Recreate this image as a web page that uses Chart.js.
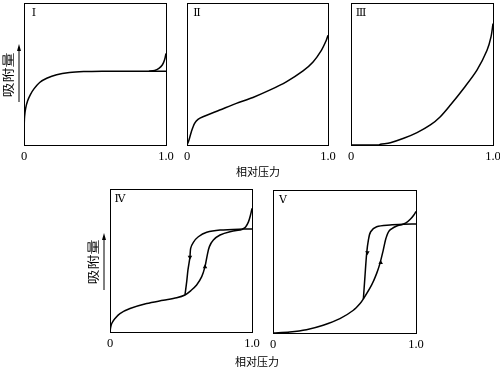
<!DOCTYPE html>
<html><head><meta charset="utf-8">
<script src="https://cdn.jsdelivr.net/npm/chart.js@4.4.1/dist/chart.umd.min.js"></script>
<style>
html,body{margin:0;padding:0;background:#fff}
body{width:500px;height:368px;position:relative;overflow:hidden}
canvas{position:absolute}
.t{position:absolute;color:#000;white-space:nowrap;z-index:5;line-height:1}
.cn{font-family:"Noto Sans CJK SC","Noto Sans",sans-serif;font-size:11px}
.cy{font-family:"Noto Sans CJK SC","Noto Sans",sans-serif;font-size:12px}
.rn{font-family:"DejaVu Serif","Liberation Serif",serif;font-size:11px}
svg{position:absolute;left:0;top:0;z-index:4}
</style></head><body>
<svg width="500" height="368">
  <line x1="19" y1="102" x2="19" y2="50" stroke="#000" stroke-width="1"/>
  <polygon points="19,44 17,51 21,51" fill="#000"/>
  <line x1="104" y1="290" x2="104" y2="240" stroke="#000" stroke-width="1"/>
  <polygon points="104,233 102,240 106,240" fill="#000"/>
</svg>
<script>
// ---- text ----
const tickLabels = ['0', '1.0'];
const panelNames = ['Ⅰ', 'Ⅱ', 'Ⅲ', 'Ⅳ', 'Ⅴ'];
const xTitle = '相对压力';
const yTitle = '吸附量';

// ---- Type I ----
const typeIX = [0, 0.001, 0.004, 0.012, 0.025, 0.045, 0.07, 0.11, 0.16, 0.23, 0.32, 0.42, 0.55, 0.7, 0.85, 1.0];
const typeIY = [0, 0.12, 0.2, 0.26, 0.31, 0.355, 0.395, 0.44, 0.47, 0.495, 0.51, 0.517, 0.52, 0.52, 0.519, 0.519];
const typeIBranchX = [0.88, 0.92, 0.95, 0.975, 0.99, 1.0];
const typeIBranchY = [0.519, 0.525, 0.54, 0.565, 0.6, 0.645];

// ---- Type II ----
const typeIIX = [0, 0.014, 0.031, 0.054, 0.078, 0.113, 0.232, 0.35, 0.468, 0.586, 0.704, 0.823, 0.894, 0.953, 0.988, 1.0];
const typeIIY = [0, 0.035, 0.094, 0.152, 0.18, 0.199, 0.246, 0.293, 0.335, 0.386, 0.445, 0.522, 0.585, 0.667, 0.738, 0.773];

// ---- Type III ----
const typeIIIX = [0, 0.195, 0.207, 0.277, 0.371, 0.465, 0.559, 0.629, 0.7, 0.793, 0.887, 0.958, 0.986, 1.0];
const typeIIIY = [0, 0, 0.005, 0.016, 0.047, 0.087, 0.141, 0.199, 0.281, 0.398, 0.527, 0.667, 0.761, 0.855];

// ---- Type IV ----
const typeIVAdsX = [0, 0.005, 0.014, 0.035, 0.07, 0.141, 0.258, 0.375, 0.47, 0.528, 0.57, 0.61, 0.646, 0.669, 0.685, 0.70, 0.728, 0.775, 0.845, 0.927];
const typeIVAdsY = [0, 0.035, 0.063, 0.094, 0.129, 0.164, 0.199, 0.222, 0.24, 0.259, 0.29, 0.329, 0.387, 0.457, 0.538, 0.597, 0.643, 0.678, 0.701, 0.715];
const typeIVDesX = [1.0, 0.937, 0.775, 0.681, 0.622, 0.587, 0.568, 0.563, 0.549, 0.54, 0.528];
const typeIVDesY = [0.72, 0.72, 0.713, 0.697, 0.666, 0.627, 0.585, 0.524, 0.434, 0.35, 0.259];
const typeIVBranchX = [0.927, 0.955, 0.975, 0.99, 1.0];
const typeIVBranchY = [0.715, 0.735, 0.77, 0.82, 0.865];
const typeIVArrowX = [0.669, 0.563];
const typeIVArrowY = [0.455, 0.524];

// ---- Type V ----
const typeVAdsX = [0, 0.117, 0.234, 0.351, 0.468, 0.562, 0.609, 0.632, 0.69, 0.725, 0.748, 0.771, 0.79, 0.813, 0.865, 0.9];
const typeVAdsY = [0, 0.007, 0.023, 0.054, 0.1, 0.159, 0.206, 0.238, 0.336, 0.417, 0.487, 0.58, 0.662, 0.715, 0.748, 0.757];
const typeVDesX = [1.0, 0.911, 0.818, 0.725, 0.683, 0.667, 0.655, 0.643, 0.632];
const typeVDesY = [0.762, 0.76, 0.755, 0.743, 0.708, 0.65, 0.557, 0.394, 0.238];
const typeVBranchX = [0.9, 0.93, 0.96, 0.985, 1.0];
const typeVBranchY = [0.757, 0.77, 0.795, 0.825, 0.85];
const typeVArrowX = [0.753, 0.66];
const typeVArrowY = [0.492, 0.562];

const arrowRotation = [0, 180]; // up on adsorption, down on desorption

function pts(xs, ys) { return xs.map((x, i) => ({ x: x, y: ys[i] })); }
function curve(xs, ys) {
  return { data: pts(xs, ys), showLine: true, borderColor: '#000', borderWidth: 1.5,
           pointRadius: 0, tension: 0.3, fill: false };
}
function arrows(xs, ys) {
  return { data: pts(xs, ys), showLine: false, pointStyle: 'triangle', pointRadius: 2.6,
           pointRotation: arrowRotation, backgroundColor: '#000', borderColor: '#000', borderWidth: 0 };
}

function addText(txt, cls, cx, cy, extra) {
  const d = document.createElement('div');
  d.className = 't ' + cls;
  d.textContent = txt;
  d.style.left = cx + 'px';
  d.style.top = cy + 'px';
  d.style.transform = 'translate(-50%,-50%)' + (extra || '');
  document.body.appendChild(d);
}

function makeChart(box, datasets, name) {
  const padL = 16, padR = 16, padT = 4, axisH = 22;
  const cv = document.createElement('canvas');
  cv.width = box.w + padL + padR;
  cv.height = box.h + padT + axisH;
  cv.style.left = (box.l - padL) + 'px';
  cv.style.top = (box.t - padT) + 'px';
  cv.style.width = cv.width + 'px';
  cv.style.height = cv.height + 'px';
  document.body.appendChild(cv);
  new Chart(cv, {
    type: 'scatter',
    data: { datasets: datasets },
    options: {
      responsive: false, animation: false, devicePixelRatio: 1,
      layout: { padding: { left: padL, right: padR, top: padT, bottom: 0 } },
      plugins: { legend: { display: false }, tooltip: { enabled: false }, title: { display: false } },
      scales: {
        x: {
          type: 'linear', min: 0, max: 1,
          afterBuildTicks: s => { s.ticks = [{ value: 0 }, { value: 1 }]; },
          afterFit: s => { s.height = axisH; },
          ticks: { callback: (v, i) => tickLabels[i], font: { family: 'Liberation Serif', size: 12.5 },
                   color: '#000', padding: 4, maxRotation: 0, autoSkip: false },
          grid: { color: '#000', lineWidth: 1, drawTicks: false },
          border: { color: '#000', width: 1 }
        },
        y: {
          type: 'linear', min: 0, max: 1,
          afterBuildTicks: s => { s.ticks = [{ value: 0 }, { value: 1 }]; },
          afterFit: s => { s.width = 0; },
          ticks: { display: false },
          grid: { color: '#000', lineWidth: 1, drawTicks: false },
          border: { color: '#000', width: 1 }
        }
      }
    }
  });
  addText(name, 'rn', box.l + 10, box.t + 9);
}

const boxes = [
  { l: 24, t: 3, w: 142, h: 142 },
  { l: 187, t: 3, w: 141, h: 142 },
  { l: 351, t: 3, w: 142, h: 142 },
  { l: 110, t: 189, w: 142, h: 143 },
  { l: 273, t: 190, w: 143, h: 143 }
];

makeChart(boxes[0], [curve(typeIX, typeIY), curve(typeIBranchX, typeIBranchY)], panelNames[0]);
makeChart(boxes[1], [curve(typeIIX, typeIIY)], panelNames[1]);
makeChart(boxes[2], [curve(typeIIIX, typeIIIY)], panelNames[2]);
makeChart(boxes[3], [curve(typeIVAdsX, typeIVAdsY), curve(typeIVDesX, typeIVDesY),
                     curve(typeIVBranchX, typeIVBranchY), arrows(typeIVArrowX, typeIVArrowY)], panelNames[3]);
makeChart(boxes[4], [curve(typeVAdsX, typeVAdsY), curve(typeVDesX, typeVDesY),
                     curve(typeVBranchX, typeVBranchY), arrows(typeVArrowX, typeVArrowY)], panelNames[4]);

addText(xTitle, 'cn', 258, 171);
addText(xTitle, 'cn', 257, 361);
addText(yTitle, 'cy', 8, 75, ' rotate(-90deg) scaleX(1.25)');
addText(yTitle, 'cy', 93, 262, ' rotate(-90deg) scaleX(1.25)');
</script>
</body></html>
